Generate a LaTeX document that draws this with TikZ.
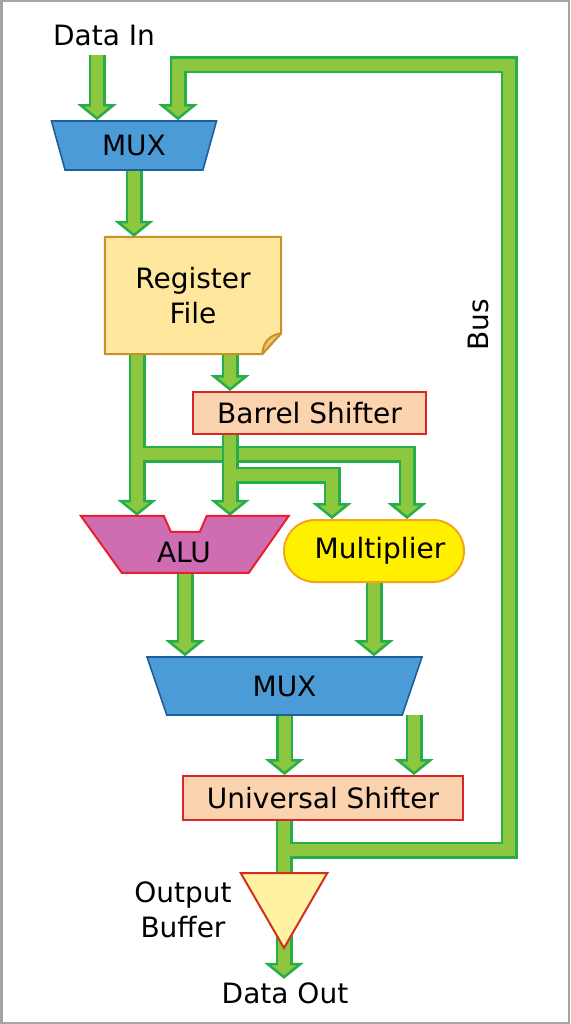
\documentclass[tikz,border=0pt]{standalone}
\usepackage{fontspec}
\setmainfont{DejaVu Sans}
\usetikzlibrary{positioning,shapes.geometric,arrows.meta}

\definecolor{pipeline}{HTML}{25AE4A}
\definecolor{pipefill}{HTML}{8DC63F}
\definecolor{muxfill}{HTML}{4B9CD6}
\definecolor{muxline}{HTML}{1C5E9E}
\definecolor{rffill}{HTML}{FFE89E}
\definecolor{rfline}{HTML}{C8922A}
\definecolor{foldfill}{HTML}{EBC76E}
\definecolor{shfill}{HTML}{FBD3AE}
\definecolor{shline}{HTML}{D9262B}
\definecolor{alufill}{HTML}{CF6DB2}
\definecolor{aluline}{HTML}{E8202E}
\definecolor{multfill}{HTML}{FFF000}
\definecolor{multline}{HTML}{F5A51C}
\definecolor{buffill}{HTML}{FFF2A3}
\definecolor{bufline}{HTML}{D3301C}
\definecolor{framegray}{HTML}{A4A4A4}

\pgfdeclarelayer{pipes}
\pgfdeclarelayer{back}
\pgfsetlayers{pipes,back,main}

\tikzset{
  pipeouter/.style={draw=pipeline, line width=17pt, line join=miter,
    -{Triangle[length=16pt,width=39pt,line width=2.5pt,fill=pipefill]}},
  pipeinner/.style={draw=pipefill, line width=12pt, line join=miter, shorten >=13pt},
  mux/.style={trapezium, shape border rotate=180, trapezium stretches body,
    inner sep=0pt, draw=muxline, fill=muxfill, line width=1.6pt},
  shifter/.style={rectangle, draw=shline, fill=shfill, line width=2pt, inner sep=0pt},
}

% the bus lines, drawn once as outline and once as filling
\newcommand{\pipesmain}{
\draw[pipe] (din) -- (din |- mux1.north);
\draw[pipe] (mux1.south) -- (mux1.south |- rf.north);
\draw[pipe] (rf.south -| colL) -- (alu.north -| colL);
\draw[pipe] (colL) -- (bar1) -- (bar1 |- mult.north);
\draw[pipe] (rf.south -| colB) -- (barrel.north -| colB);
\draw[pipe] (alu.south) -- (alu.south |- mux2.north);
\draw[pipe] (mult.south) -- (mult.south |- mux2.north);
\draw[pipe] (mux2.south) -- (mux2.south |- us.north);
\draw[pipe] (xtra) -- (xtra |- us.north);
\draw[pipe] (us.south -| buf) -- (buf |- dataout.north);
\draw[pipe] (buf |- busbot) -- (busbot) -- (bustop) -- (busin) -- (busin |- mux1.north);
}
\newcommand{\pipesbarrel}{
\draw[pipe] (barrel.south -| colB) -- (alu.north -| colB);
\draw[pipe] (colB) -- (bar2) -- (bar2 |- mult.north);
}

\begin{document}
\begin{tikzpicture}[x=1pt, y=-1pt, every node/.style={font=\fontsize{28}{35}\selectfont}]
\useasboundingbox (0,0) rectangle (570,1024);
\draw[framegray, line width=2.5pt] (1.25,1.25) rectangle (568.75,1022.75);

\node (datain) at (104,35) {Data In};
\node[mux, trapezium angle=56.9, minimum width=165pt, minimum height=49pt] (mux1) at (134,145.5) {MUX};
\node[inner sep=0pt, minimum width=176pt, minimum height=117pt, align=center] (rf) at (193,295.5) {Register\\File};
\node[shifter, minimum width=233pt, minimum height=42pt] (barrel) at (309.5,413) {Barrel Shifter};
\node[inner sep=0pt, minimum width=208pt, minimum height=57pt] (alu) at (185,544.5) {};
\node (alutext) at (184,552) {ALU};
\node[draw=multline, fill=multfill, line width=2pt, rounded corners=31pt,
  minimum width=180pt, minimum height=62pt] (mult) at (374,551) {\hspace{12pt}Multiplier};
\node[mux, trapezium angle=46.5, minimum width=275pt, minimum height=58pt] (mux2) at (284.5,686) {MUX\hspace{12pt}};
\node[shifter, minimum width=280pt, minimum height=44pt] (us) at (323,798) {Universal Shifter\hspace{8pt}};
\node[regular polygon, regular polygon sides=3, shape border rotate=180, draw=bufline,
  fill=buffill, line width=2pt, inner sep=0pt, minimum size=100pt] (buf) at (284,898) {};
\node[align=center] (outbuf) at (183,910) {Output\\Buffer};
\node (dataout) at (285,993) {Data Out};
\node[rotate=90] (buslabel) at (478,325) {Bus};

\coordinate (din) at (97,55);
\coordinate (colL) at (137,454);
\coordinate (colB) at (230,475);
\coordinate (bar1) at (407,454);
\coordinate (bar2) at (332,475);
\coordinate (xtra) at (414,715);
\coordinate (busbot) at (509,850);
\coordinate (bustop) at (509,65);
\coordinate (busin) at (178,65);

% shapes that are not plain nodes
\begin{pgfonlayer}{back}
\draw[draw=rfline, fill=rffill, line width=2pt, line join=round] (rf.north west) -- (rf.north east)
  -- ([yshift=21pt]rf.south east) -- ([xshift=-19pt]rf.south east) -- (rf.south west) -- cycle;
\draw[draw=rfline, fill=foldfill, line width=2pt, line join=round, shift={(rf.south east)}]
  (0,-21) .. controls (-12,-19) and (-18,-12) .. (-19,0) -- cycle;
\draw[draw=aluline, fill=alufill, line width=2pt, shift={(alu.north west)}]
  (0,0) -- (83,0) -- (90,16) -- (119,16) -- (126,0) -- (208,0) -- (168,57) -- (41,57) -- cycle;
\end{pgfonlayer}

\begin{pgfonlayer}{pipes}
\begin{scope}[pipe/.style=pipeouter] \pipesmain \end{scope}
\begin{scope}[pipe/.style=pipeinner] \pipesmain \end{scope}
\begin{scope}[pipe/.style=pipeouter] \pipesbarrel \end{scope}
\begin{scope}[pipe/.style=pipeinner] \pipesbarrel \end{scope}
\end{pgfonlayer}
\end{tikzpicture}
\end{document}
